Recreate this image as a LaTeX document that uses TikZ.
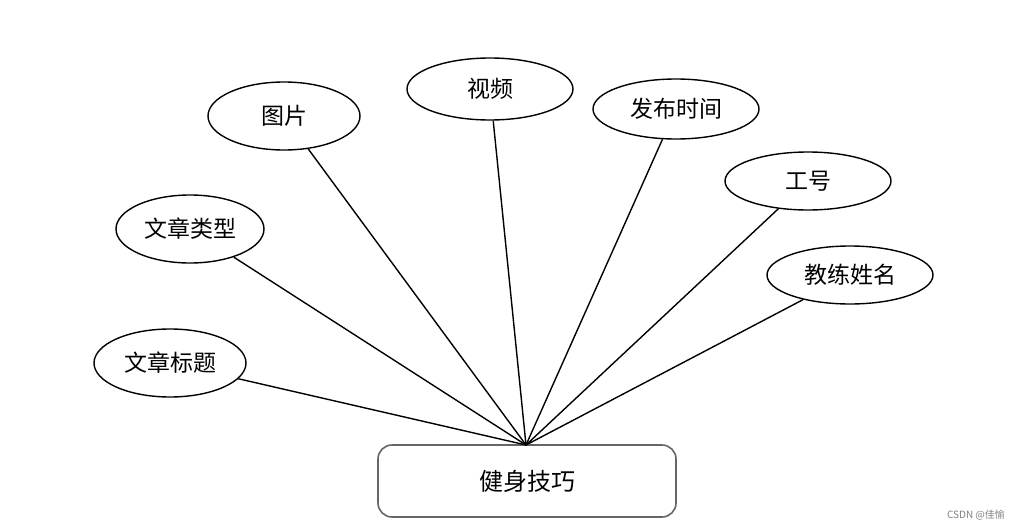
\documentclass[tikz,border=0pt]{standalone}
\usepackage{fontspec}
\setmainfont{Noto Sans CJK SC}
\usetikzlibrary{shapes.geometric}
\begin{document}
\begin{tikzpicture}[x=1pt,y=-1pt,
 attr/.style={draw,ellipse,line width=1.4pt,inner sep=0pt,font=\fontsize{23}{26}\selectfont},
 ent/.style={draw=black!60,rounded corners=14pt,line width=1.6pt,minimum width=298pt,minimum height=72pt,font=\fontsize{24}{28}\selectfont},
 conn/.style={line width=1.4pt}]
\useasboundingbox (0,0) rectangle (1025,530);
\node[ent] (e) at (527,481) {健身技巧};
\coordinate (h) at (526,445);
\node[attr,minimum width=152pt,minimum height=68pt] (a1) at (284,116) {图片};
\node[attr,minimum width=166pt,minimum height=62pt] (a2) at (490,89) {视频};
\node[attr,minimum width=166pt,minimum height=60pt] (a3) at (676,109) {发布时间};
\node[attr,minimum width=166pt,minimum height=58pt] (a4) at (808,181) {工号};
\node[attr,minimum width=148pt,minimum height=68pt] (a5) at (190,229) {文章类型};
\node[attr,minimum width=166pt,minimum height=58pt] (a6) at (850,275) {教练姓名};
\node[attr,minimum width=152pt,minimum height=68pt] (a7) at (170,363) {文章标题};
\foreach \n in {a1,a2,a3,a4,a5,a6,a7} \draw[conn] (\n) -- (h);
\node[text=black!50,font=\fontsize{10}{12}\selectfont] (w) at (976,515) {CSDN @佳愉};
\end{tikzpicture}
\end{document}
